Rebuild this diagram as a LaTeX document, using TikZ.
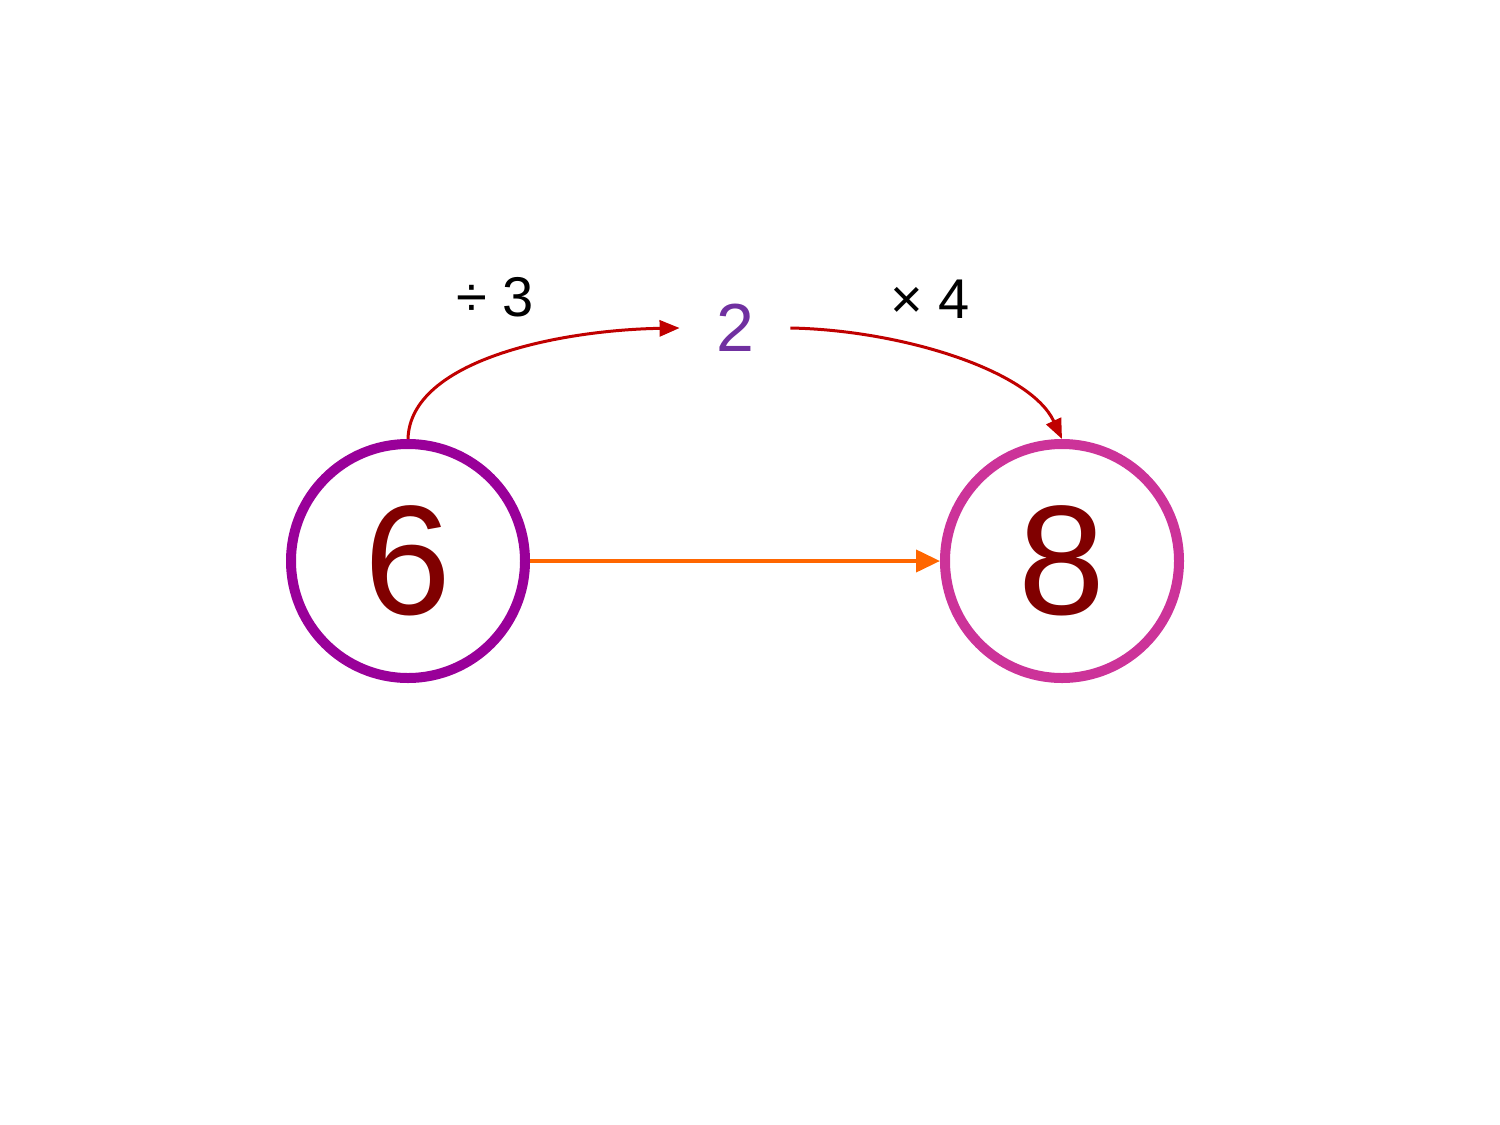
\documentclass[tikz,border=0pt]{standalone}
\usepackage{fontspec}
\setmainfont{Liberation Sans}
\usetikzlibrary{arrows.meta}
\definecolor{numred}{HTML}{800000}
\definecolor{cleft}{HTML}{990099}
\definecolor{cright}{HTML}{CC3399}
\definecolor{cmid}{HTML}{7030A0}
\definecolor{arrred}{HTML}{C00000}
\definecolor{arrorange}{HTML}{FF6600}
\tikzset{
  numcircle/.style={circle, line width=5pt, minimum size=117pt, inner sep=0pt, text=numred, font=\fontsize{78}{80}\selectfont},
  oplabel/.style={font=\fontsize{28}{30}\selectfont},
  curvearrow/.style={draw=arrred, line width=1.5pt, -{Triangle[length=10pt,width=8pt]}},
}
\begin{document}
\begin{tikzpicture}[x=0.5pt,y=-0.5pt]
\useasboundingbox (0,0) rectangle (1500,1125);
\node[numcircle, draw=cleft] (six) at (408,561) {6};
\node[numcircle, draw=cright] (eight) at (1062,561) {8};
\node[text=cmid, font=\fontsize{34}{36}\selectfont, inner sep=0pt, minimum width=55pt, minimum height=30pt] (two) at (735,328) {2};
\node[oplabel] (div) at (495,297) {÷ 3};
\node[oplabel] (mul) at (930,299) {× 4};
\draw[draw=arrorange, line width=2pt, -{Triangle[length=12pt,width=11pt]}] (six.east) -- (eight.west);
\draw[curvearrow] (six.north) .. controls (410,360) and (560,330) .. (two.west);
\draw[curvearrow] (two.east) .. controls (900,330) and (1030,370) .. (eight.north);
\end{tikzpicture}
\end{document}
